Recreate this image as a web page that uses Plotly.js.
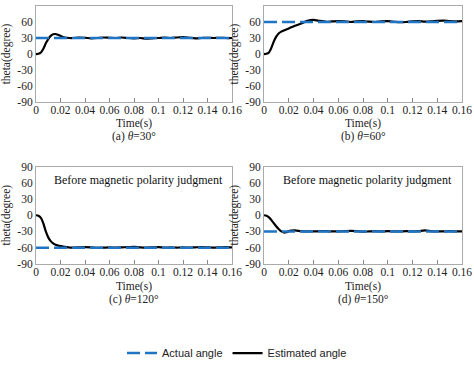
<!DOCTYPE html>
<html>
<head>
<meta charset="utf-8">
<script src="https://cdn.plot.ly/plotly-3.0.1.min.js"></script>
<style>html,body{margin:0;padding:0;background:#fff;}#chart{width:474px;height:368px;}</style>
</head>
<body>
<div id="chart"></div>
<script>
// Time axis (s)
const timeS = [0,0.002,0.004,0.006,0.008,0.010,0.012,0.014,0.016,0.018,0.020,0.022,
  0.025,0.030,0.035,0.040,0.045,0.050,0.055,0.060,0.065,0.070,0.075,0.080,0.085,0.090,
  0.095,0.100,0.105,0.110,0.115,0.120,0.125,0.130,0.135,0.140,0.145,0.150,0.155,0.160];

// Actual angles (degree) per panel
const actualA = 30, actualB = 60, actualC = -60, actualD = -30;

// Estimated angles (degree)
const estA = [0,0.5,3,10,20,28,34,37,37.5,36,34,32,30.5,30,31,30.5,29.5,30,31,30.5,30,31,30,29.5,30,29,29.5,30,31,30,31,31.5,30.5,29.5,30,30.5,30,30.5,30,30];
const estB = [0,0.5,3,12,24,33,39,42,44,46,48,50,53,57,62,64,62,60.5,61,61.5,61,60,61,61.5,60.5,60,61,61.5,60.5,59.5,60,61,61.5,60.5,61,62,62.5,61.5,61,61.5];
const estC = [0,-1,-5,-15,-30,-41,-48,-52,-54.5,-56,-57,-58,-59,-60,-59.5,-59,-59.5,-60.5,-60,-59.5,-60,-59.5,-59,-58.5,-59.5,-60,-59.5,-59,-60,-59.5,-60,-59.5,-60,-59.5,-59,-59.5,-60,-59.5,-59,-59.5];
const estD = [0,-1,-4,-9,-15,-21,-26,-30,-32,-31.5,-29.5,-28.5,-28,-29.5,-30,-30,-29.5,-29.5,-30,-30,-29.5,-29,-29.5,-30.5,-30,-29.5,-30,-29.5,-30,-30,-29.5,-30,-29.5,-28,-29.5,-30,-30,-29.5,-30,-30];

const xTickVals = [0,0.02,0.04,0.06,0.08,0.10,0.12,0.14,0.16];
const xTickText = ["0","0.02","0.04","0.06","0.08","0.1","0.12","0.14","0.16"];
const yTickVals = [-90,-60,-30,0,30,60,90];
const yTickText = ["-90","-60","-30","0","30","60","90"];
const captions = ["(a) <i>θ</i>=30°","(b) <i>θ</i>=60°","(c) <i>θ</i>=120°","(d) <i>θ</i>=150°"];
const seriesNames = ["Actual angle","Estimated angle"];
const xTitle = "Time(s)", yTitle = "theta(degree)";
const noteText = "Before magnetic polarity judgment";

const blue = "#1f74c4";
const panels = [
  {est: estA, act: actualA, xa: "x",  ya: "y"},
  {est: estB, act: actualB, xa: "x2", ya: "y2"},
  {est: estC, act: actualC, xa: "x3", ya: "y3"},
  {est: estD, act: actualD, xa: "x4", ya: "y4"}
];

const traces = [];
panels.forEach((p, i) => {
  traces.push({
    x: timeS, y: p.est, xaxis: p.xa, yaxis: p.ya, type: "scatter", mode: "lines",
    name: seriesNames[1], showlegend: i === 0, legendrank: 2,
    line: {color: "#000", width: 2.2, shape: "spline", smoothing: 0.6}
  });
  traces.push({
    x: [timeS[0], timeS[timeS.length-1]], y: [p.act, p.act], xaxis: p.xa, yaxis: p.ya,
    type: "scatter", mode: "lines",
    name: seriesNames[0], showlegend: i === 0, legendrank: 1,
    line: {color: blue, width: 2.5, dash: "13px,5px"}
  });
});

const serif = "'Liberation Serif', 'Times New Roman', serif";
const tfont = {family: serif, size: 11.5, color: "#222"};
function xax(dom, anchor) {
  return {domain: dom, anchor: anchor, range: [0, 0.16], tickmode: "array",
    tickvals: xTickVals, ticktext: xTickText, ticks: "inside", ticklen: 4, tickcolor: "#888",
    ticklabelstandoff: -3,
    showline: true, linecolor: "#aaa", linewidth: 1, mirror: true, showgrid: false, zeroline: false,
    tickfont: tfont};
}
function yax(dom, anchor) {
  return {domain: dom, anchor: anchor, range: [-90, 90], tickmode: "array",
    tickvals: yTickVals, ticktext: yTickText, ticks: "", showline: true, linecolor: "#aaa",
    linewidth: 1, mirror: true, showgrid: false, zeroline: false,
    tickfont: tfont,
    title: {text: yTitle, font: tfont, standoff: 4}};
}

const W = 474, H = 368;
const xdA = [36/W, 232/W], xdB = [264/W, 462/W];
const ydTop = [1-103/H, 1-6/H], ydBot = [1-266/H, 1-168/H];

const annotations = [];
function addText(text, px, py, font) {
  annotations.push({text: text, xref: "paper", yref: "paper", x: px/W, y: 1-py/H,
    showarrow: false, xanchor: "center", yanchor: "middle", font: font});
}
const capPos = [[134, 138],[363, 138],[134, 302],[363, 302]];
captions.forEach((c, i) => addText(c, capPos[i][0], capPos[i][1], tfont));
[[134, 125],[363, 125],[134, 289],[363, 289]].forEach(p => addText(xTitle, p[0], p[1], tfont));
[[138, 181],[367, 181]].forEach(p => addText(noteText, p[0], p[1], {family: serif, size: 12, color: "#111"}));

const layout = {
  width: W, height: H, margin: {l: 0, r: 0, t: 0, b: 0},
  paper_bgcolor: "#fff", plot_bgcolor: "#fff",
  xaxis: xax(xdA, "y"), yaxis: yax(ydTop, "x"),
  xaxis2: xax(xdB, "y2"), yaxis2: yax(ydTop, "x2"),
  xaxis3: xax(xdA, "y3"), yaxis3: yax(ydBot, "x3"),
  xaxis4: xax(xdB, "y4"), yaxis4: yax(ydBot, "x4"),
  annotations: annotations,
  showlegend: true,
  legend: {orientation: "h", x: 0.5, xanchor: "center", y: 1-356/H, yanchor: "middle",
    font: {family: "'Liberation Sans', Arial, sans-serif", size: 11, color: "#222"},
    itemwidth: 30, tracegroupgap: 0, bgcolor: "rgba(0,0,0,0)"}
};

Plotly.newPlot("chart", traces, layout, {displayModeBar: false, staticPlot: true});
</script>
</body>
</html>
